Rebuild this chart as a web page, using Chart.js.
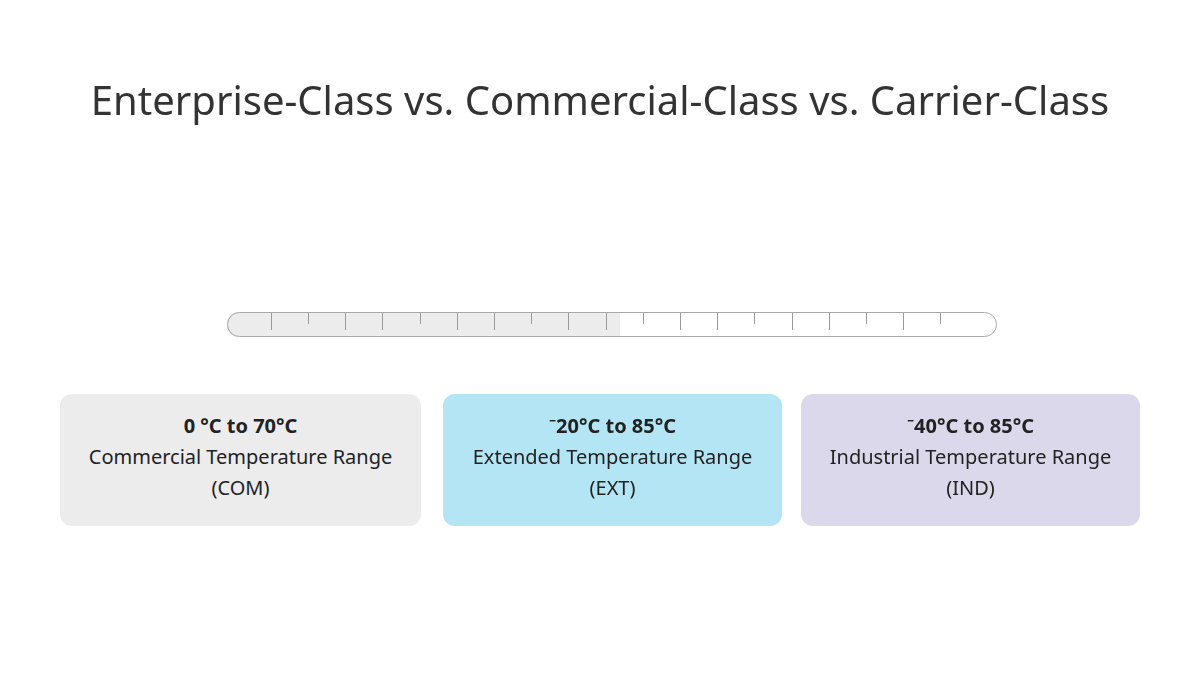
<!DOCTYPE html>
<html><head><meta charset="utf-8">
<script src="https://cdn.jsdelivr.net/npm/chart.js"></script>
<style>
body{margin:0;width:1200px;height:675px;background:#fff;position:relative;overflow:hidden;font-family:"Noto Sans","Open Sans",sans-serif;color:#222}
#c{position:absolute;left:0;top:0}
h1{position:absolute;top:72px;left:0;width:1200px;text-align:center;margin:0;font-weight:400;font-size:40px;color:#333;}
.box{position:absolute;top:394px;height:132px;border-radius:12px;text-align:center;font-size:20px;line-height:31px;padding-top:16px;box-sizing:border-box}
.box b{font-weight:700}
</style></head><body>
<canvas id="c" width="1200" height="675"></canvas>
<h1 id="title"></h1>
<div id="boxes"></div>
<script>
const title = "Enterprise-Class vs. Commercial-Class vs. Carrier-Class";
const barMin = -0.18, barMax = 20.52, fillEnd = 10.38;
const tickValues = [1,2,3,4,5,6,7,8,9,10,11,12,13,14,15,16,17,18,19];
const tickLong   = [1,0,1,1,0,1,1,0,1,1,0,1,1,0,1,1,0,1,0];
const rangeHeads = ["0 °C to 70°C","\u207B20°C to 85°C","\u207B40°C to 85°C"];
const rangeNames = ["Commercial Temperature Range","Extended Temperature Range","Industrial Temperature Range"];
const rangeCodes = ["(COM)","(EXT)","(IND)"];
const boxColors = ["#ececec","#b3e5f5","#dcd8eb"];
const boxX = [[60,421],[443,782],[801,1140]];

document.getElementById('title').textContent = title;
const bx = document.getElementById('boxes');
rangeHeads.forEach((h,i)=>{
  const d=document.createElement('div');d.className='box';
  d.style.left=boxX[i][0]+'px';d.style.width=(boxX[i][1]-boxX[i][0])+'px';d.style.background=boxColors[i];
  const b=document.createElement('b');b.textContent=h;d.appendChild(b);
  d.appendChild(document.createElement('br'));d.appendChild(document.createTextNode(rangeNames[i]));
  d.appendChild(document.createElement('br'));d.appendChild(document.createTextNode(rangeCodes[i]));
  bx.appendChild(d);
});

const thermo = {
  id:'thermo',
  afterDatasetsDraw(chart){
    const {ctx, chartArea:a, scales:{x}} = chart;
    const h=a.bottom-a.top;
    ctx.save();
    ctx.strokeStyle='#999';ctx.lineWidth=1;
    tickValues.forEach((v,i)=>{
      const px=Math.round(x.getPixelForValue(v))+0.5;
      ctx.beginPath();ctx.moveTo(px,a.top);ctx.lineTo(px,a.top+(tickLong[i]?h*0.72:h*0.48));ctx.stroke();
    });
    ctx.strokeStyle='#a8a8a8';
    const l=x.getPixelForValue(barMin)+0.5,r=x.getPixelForValue(barMax)-0.5,t=a.top+0.5,b=a.bottom-0.5,rad=(b-t)/2;
    ctx.beginPath();ctx.roundRect(l,t,r-l,b-t,rad);ctx.stroke();
    ctx.restore();
  }
};

new Chart(document.getElementById('c'),{
  type:'bar',
  data:{labels:['range'],datasets:[{data:[[barMin,fillEnd]],backgroundColor:'#ececec',borderWidth:0,borderSkipped:false,
    borderRadius:{topLeft:12,bottomLeft:12,topRight:0,bottomRight:0},barPercentage:1,categoryPercentage:1}]},
  options:{indexAxis:'y',responsive:false,animation:false,
    layout:{padding:{left:227,right:203,top:312,bottom:338}},
    plugins:{legend:{display:false},tooltip:{enabled:false}},
    scales:{x:{type:'linear',min:barMin,max:barMax,display:false},y:{display:false}}},
  plugins:[thermo]
});
</script></body></html>
